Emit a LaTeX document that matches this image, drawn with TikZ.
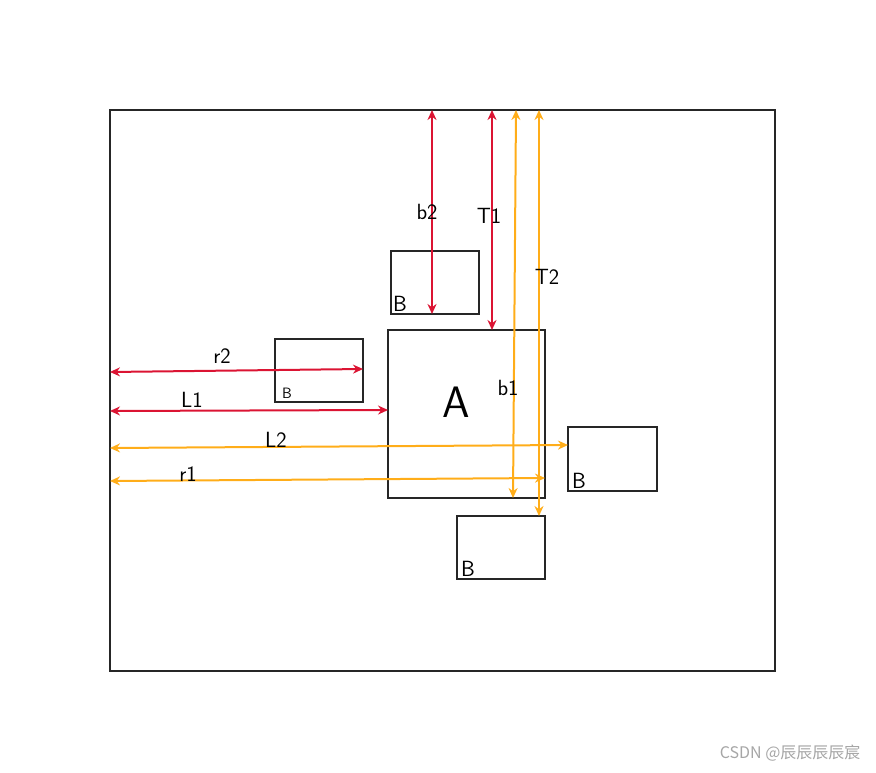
\documentclass[tikz,border=0pt]{standalone}
\usepackage{fontspec}
\newfontfamily\cjk{Noto Sans CJK SC}
\usetikzlibrary{arrows.meta}
\definecolor{dimred}{rgb}{0.86,0.08,0.20}
\definecolor{dimorange}{rgb}{1.0,0.68,0.10}
\definecolor{boxline}{rgb}{0.15,0.15,0.15}
\begin{document}
\begin{tikzpicture}[x=1pt, y=-1pt,
    box/.style={draw=boxline, line width=2pt},
    redarrow/.style={{Stealth[length=10pt,width=9pt]}-{Stealth[length=10pt,width=9pt]}, dimred, line width=2pt},
    orangearrow/.style={{Stealth[length=10pt,width=9pt]}-{Stealth[length=10pt,width=9pt]}, dimorange, line width=2pt},
    lbl/.style={font=\sffamily\fontsize{22}{22}\selectfont, text=black}
]
\useasboundingbox (0,0) rectangle (876,773);

% frame and boxes
\draw[box] (110,110) rectangle (775,671);
\draw[box] (388,330) rectangle (545,498);
\node[font=\sffamily\fontsize{44}{44}\selectfont] (alabel) at (456,402) {A};
\draw[box] (391,251) rectangle (479,314);
\node[lbl, anchor=south west, inner sep=2pt] (btop) at (391,314) {B};
\draw[box] (275,339) rectangle (363,402);
\node[font=\sffamily\fontsize{15}{15}\selectfont, anchor=south west, inner sep=3pt] (bleft) at (279,402) {B};
\draw[box] (568,427) rectangle (657,491);
\node[lbl, anchor=south west, inner sep=2pt] (bright) at (570,491) {B};
\draw[box] (457,516) rectangle (545,579);
\node[lbl, anchor=south west, inner sep=2pt] (bbottom) at (459,579) {B};

% vertical distances
\draw[redarrow] (432,110) -- (432,314);
\draw[redarrow] (492,110) -- (492,330);
\draw[orangearrow] (516,110) -- (513,498);
\draw[orangearrow] (539,110) -- (539,516);

% horizontal distances
\draw[redarrow] (110,372) -- (363,369);
\draw[redarrow] (110,411) -- (388,410);
\draw[orangearrow] (110,448) -- (568,445);
\draw[orangearrow] (110,481) -- (545,478);

% labels
\node[lbl] (lb2) at (427,212) {b2};
\node[lbl] (lt1) at (489,216) {T1};
\node[lbl] (lt2) at (547,277) {T2};
\node[lbl] (lb1) at (508,388) {b1};
\node[lbl] (lr2) at (222,356) {r2};
\node[lbl] (ll1) at (192,400) {L1};
\node[lbl] (ll2) at (276,440) {L2};
\node[lbl] (lr1) at (188,474) {r1};

\node[font=\cjk\fontsize{16}{16}\selectfont, text=gray!70, anchor=east] (mark) at (864,753) {CSDN @辰辰辰辰宸};
\end{tikzpicture}
\end{document}
